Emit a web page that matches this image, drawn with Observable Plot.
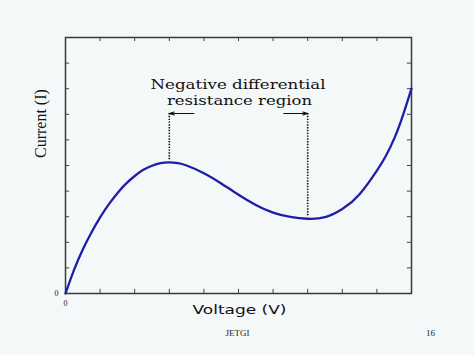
<!DOCTYPE html>
<html><head><meta charset="utf-8">
<script src="https://cdn.jsdelivr.net/npm/d3@7"></script>
<script src="https://cdn.jsdelivr.net/npm/@observablehq/plot@0.6"></script>
<style>
html,body{margin:0;padding:0;background:#f4f8f9;}
</style></head><body><div id="chart"></div>
<script>
// I–V curve (arbitrary units, axes 0..10)
const voltage = [0, 0.25, 0.5, 0.75, 1.0, 1.25, 1.5, 1.75, 2.0, 2.25, 2.5, 2.75, 3.0, 3.25, 3.5, 4.0, 4.5, 5.0, 5.5, 6.0, 6.5, 7.0, 7.5, 8.0, 8.5, 9.0, 9.25, 9.5, 9.75, 10];
const current = [0, 0.93, 1.72, 2.38, 2.97, 3.48, 3.92, 4.29, 4.59, 4.83, 4.99, 5.09, 5.12, 5.09, 5.0, 4.7, 4.3, 3.86, 3.46, 3.16, 2.99, 2.92, 2.98, 3.3, 3.88, 4.8, 5.35, 6.05, 6.95, 8.0];
const xTicks = [1, 2, 3, 4, 5, 6, 7, 8, 9];
const yTicks = [1, 2, 3, 4, 5, 6, 7, 8, 9];
// NDR markers: region bounds (voltage), current at bounds, arrow level and arrow tails
const ndrBounds = [3.0, 7.0];
const ndrCurrent = [5.12, 2.92];
const ndrArrowLevel = 7.03;
const ndrArrowTails = [3.71, 6.31];
const annotationLines = ["Negative differential", "resistance region"];
const xLabel = "Voltage (V)";
const yLabel = "Current (I)";
const footerLeft = "JETGI";
const footerRight = "16";

const curve = voltage.map((v, i) => ({v, i: current[i]}));
const drops = ndrBounds.map((v, k) => ({v, top: ndrArrowLevel, bottom: ndrCurrent[k] + 0.1}));
const arrows = ndrBounds.map((v, k) => ({from: ndrArrowTails[k], to: v, y: ndrArrowLevel}));

const tickColor = "#444";
const chart = Plot.plot({
  width: 474, height: 355,
  marginLeft: 65, marginRight: 63, marginTop: 37, marginBottom: 62,
  style: {background: "#f4f8f9", overflow: "visible"},
  x: {domain: [0, 10]},
  y: {domain: [0, 10]},
  marks: [
    Plot.axisX({ticks: [0], tickSize: 0, tickPadding: 7, tickFormat: d => String(d), fontSize: 8, fontFamily: "Liberation Serif", label: null, color: "#222"}),
    Plot.axisY({ticks: [0], tickSize: 0, tickPadding: 7, tickFormat: d => String(d), fontSize: 8, fontFamily: "Liberation Serif", label: null, color: "#222"}),
    Plot.ruleX(xTicks, {x: d => d, y1: 0, y2: 0.16, stroke: tickColor, strokeWidth: 1}),
    Plot.ruleX(xTicks, {x: d => d, y1: 9.84, y2: 10, stroke: tickColor, strokeWidth: 1}),
    Plot.ruleY(yTicks, {y: d => d, x1: 0, x2: 0.12, stroke: tickColor, strokeWidth: 1}),
    Plot.ruleY(yTicks, {y: d => d, x1: 9.88, x2: 10, stroke: tickColor, strokeWidth: 1}),
    Plot.frame({stroke: "#3a3a3a", strokeWidth: 1.5}),
    Plot.ruleX(drops, {x: "v", y1: "top", y2: "bottom", stroke: "#111", strokeWidth: 1.6, strokeDasharray: "1.4,1.4"}),
    Plot.arrow(arrows, {x1: "from", x2: "to", y1: "y", y2: "y", stroke: "#111", strokeWidth: 1.1, headLength: 7, headAngle: 35}),
    Plot.line(curve, {x: "v", y: "i", curve: "natural", stroke: "#1e1ea6", strokeWidth: 2.3}),
    Plot.text([annotationLines[0]], {frameAnchor: "top", dx: -0.5, dy: 51.7, lineAnchor: "bottom", fontSize: 12.5, fontFamily: "DejaVu Serif", fill: "#111"}),
    Plot.text([annotationLines[1]], {frameAnchor: "top", dx: 1, dy: 67.7, lineAnchor: "bottom", fontSize: 12.5, fontFamily: "DejaVu Serif", fill: "#111"}),
    Plot.text([xLabel], {frameAnchor: "bottom", dx: 1, dy: 20, lineAnchor: "bottom", fontSize: 13, fontFamily: "DejaVu Sans", fill: "#111"}),
    Plot.text([yLabel], {frameAnchor: "left", dx: -20, dy: -7.5, rotate: -90, lineAnchor: "bottom", fontSize: 16, fontFamily: "Liberation Serif", fill: "#111"}),
    Plot.text([footerLeft], {frameAnchor: "bottom", dx: -1, dy: 42, lineAnchor: "bottom", fontSize: 9, fontFamily: "Liberation Serif", fill: "#222"}),
    Plot.text([footerRight], {frameAnchor: "bottom-right", dx: 19, dy: 42, lineAnchor: "bottom", textAnchor: "middle", fontSize: 9, fontFamily: "Liberation Serif", fill: "#222"})
  ]
});

// horizontal stretch of the slide text
const stretch = {"Negative differential": 175, "resistance region": 145, "Voltage (V)": 94};
d3.select(chart).selectAll("text").each(function() {
  const t = this.textContent;
  if (stretch[t]) {
    this.setAttribute("textLength", stretch[t]);
    this.setAttribute("lengthAdjust", "spacingAndGlyphs");
  }
});
document.getElementById("chart").append(chart);
</script>
</body></html>
